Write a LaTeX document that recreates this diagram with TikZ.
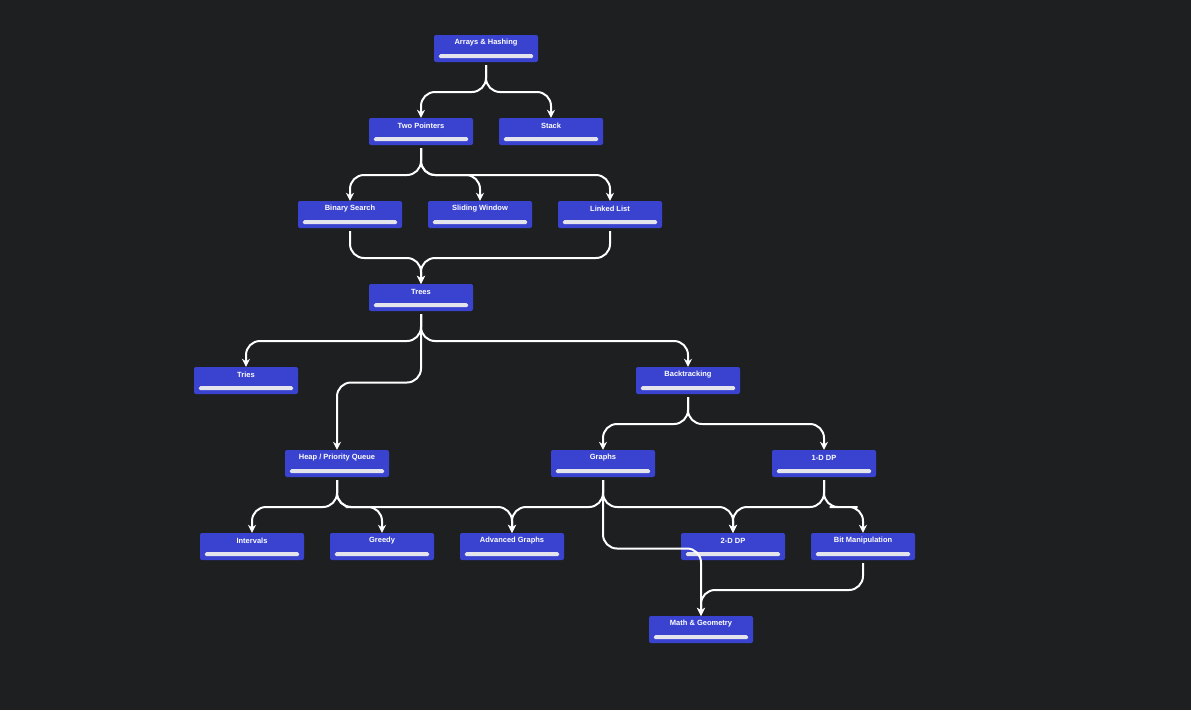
\documentclass[tikz,border=0pt]{standalone}
\usepackage{fontspec}
\setmainfont{Liberation Sans}
\usetikzlibrary{calc,arrows.meta}
\definecolor{bg}{HTML}{1E1F21}
\definecolor{boxc}{HTML}{3A43CF}
\definecolor{barc}{HTML}{E4E4EC}
\tikzset{
  box/.style={fill=boxc, rounded corners=2pt, minimum width=104pt, minimum height=27pt, inner sep=0pt},
  lbl/.style={text=white, font=\bfseries\fontsize{7.5}{9}\selectfont},
  edge/.style={draw=white, line width=2pt, rounded corners=14pt, -{Stealth[length=8pt,width=8pt]}}
}
\newcommand\topic[4]{%
  \node[box] (#1) at (#2,#3) {};
  \node[lbl] at ($(#1.north)+(0,-8pt)$) {#4};
  \fill[barc, rounded corners=1.5pt] ($(#1.south west)+(5pt,4pt)$) rectangle ($(#1.south east)+(-5pt,8pt)$);
}
\newcommand\link[2]{%
  \draw[edge] ($(#1.south)+(0,-3pt)$) |- ($($(#1.south)!0.5!(#2.north)$)+(0,-2pt)$) -| (#2.north);
}
\begin{document}
\begin{tikzpicture}[x=1pt,y=-1pt]
\fill[bg] (0,0) rectangle (1191,710);
\useasboundingbox (0,0) rectangle (1191,710);
\topic{arr}{486}{48.5}{Arrays \& Hashing}
\topic{two}{421}{131.5}{Two Pointers}
\topic{stk}{551}{131.5}{Stack}
\topic{bin}{350}{214.5}{Binary Search}
\topic{sld}{480}{214.5}{Sliding Window}
\topic{lnk}{610}{214.5}{Linked List}
\topic{tre}{421}{297.5}{Trees}
\topic{tri}{246}{380.5}{Tries}
\topic{bak}{688}{380.5}{Backtracking}
\topic{hep}{337}{463.5}{Heap / Priority Queue}
\topic{gra}{603}{463.5}{Graphs}
\topic{odp}{824}{463.5}{1-D DP}
\topic{int}{252}{546.5}{Intervals}
\topic{grd}{382}{546.5}{Greedy}
\topic{adv}{512}{546.5}{Advanced Graphs}
\topic{tdp}{733}{546.5}{2-D DP}
\topic{bit}{863}{546.5}{Bit Manipulation}
\topic{mat}{701}{629.5}{Math \& Geometry}
\link{arr}{two}\link{arr}{stk}
\link{two}{bin}\link{two}{sld}\link{two}{lnk}
\link{bin}{tre}\link{lnk}{tre}
\link{tre}{tri}\link{tre}{hep}\link{tre}{bak}
\link{bak}{gra}\link{bak}{odp}
\link{hep}{int}\link{hep}{grd}\link{hep}{adv}
\link{gra}{adv}\link{gra}{tdp}\link{gra}{mat}
\link{odp}{tdp}\link{odp}{bit}
\link{bit}{mat}
\end{tikzpicture}
\end{document}
